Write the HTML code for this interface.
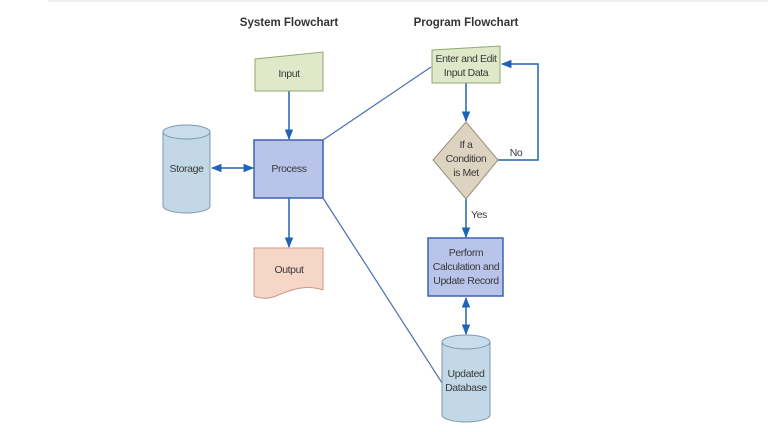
<!DOCTYPE html>
<html><head><meta charset="utf-8"><style>
html,body{margin:0;padding:0;background:#fff;}
svg{display:block;}
text{font-family:"Liberation Sans Narrow","Liberation Sans",sans-serif;fill:#3a3a3a;font-size:10.5px;letter-spacing:-0.4px;}
.t{font-weight:bold;font-size:11.5px;fill:#333;letter-spacing:0;}
</style></head><body>
<svg width="768" height="432" viewBox="0 0 768 432" xmlns="http://www.w3.org/2000/svg">
<defs>
<marker id="a" viewBox="0 0 10 10" refX="9" refY="5" markerWidth="7" markerHeight="7" orient="auto-start-reverse"><path d="M0,1 L10,5 L0,9 z" fill="#1f63b8"/></marker>
</defs>
<rect x="48" y="0" width="720" height="2" fill="#eeeeee"/>
<text class="t" x="289" y="26" text-anchor="middle">System Flowchart</text>
<text class="t" x="466" y="26" text-anchor="middle">Program Flowchart</text>

<!-- connectors -->
<g stroke="#1f63b8" stroke-width="1.5" fill="none">
<line x1="289" y1="91" x2="289" y2="139" marker-end="url(#a)"/>
<line x1="289" y1="198" x2="289" y2="247" marker-end="url(#a)"/>
<line x1="212" y1="168" x2="253" y2="168" marker-start="url(#a)" marker-end="url(#a)"/>
<line x1="466" y1="83" x2="466" y2="121" marker-end="url(#a)"/>
<line x1="466" y1="199" x2="466" y2="237" marker-end="url(#a)"/>
<line x1="466" y1="298" x2="466" y2="334" marker-start="url(#a)" marker-end="url(#a)"/>
<polyline points="498,160 538,160 538,64 502,64" marker-end="url(#a)"/>
</g>
<g stroke="#4a6fb0" stroke-width="1.2" fill="none">
<line x1="323" y1="140" x2="431" y2="67"/>
<line x1="323" y1="198" x2="444" y2="386"/>
</g>

<!-- shapes -->
<polygon points="255,59 323,52 323,91 255,91" fill="#dfe8c8" stroke="#8fa870" stroke-width="1"/>
<text x="289" y="77" text-anchor="middle">Input</text>

<rect x="254" y="140" width="69" height="58" fill="#b8c4ea" stroke="#3f62b0" stroke-width="1.5"/>
<text x="289" y="172" text-anchor="middle">Process</text>

<path d="M254,248 H323 V290 C305,284 290,290 276,296 C266,300 258,298 254,296 Z" fill="#f6d6c6" stroke="#c99a84" stroke-width="1"/>
<text x="289" y="273" text-anchor="middle">Output</text>

<path d="M163,132 V206 A23.5,7 0 0 0 210,206 V132" fill="#c3d8e6" stroke="#7b98b0" stroke-width="1"/>
<ellipse cx="186.5" cy="132" rx="23.5" ry="7" fill="#c9dcea" stroke="#7b98b0" stroke-width="1"/>
<text x="186.5" y="172" text-anchor="middle">Storage</text>

<polygon points="432,50 500,46 500,83 432,83" fill="#dfe8c8" stroke="#8fa870" stroke-width="1"/>
<text x="466" y="62" text-anchor="middle">Enter and Edit</text>
<text x="466" y="76" text-anchor="middle">Input Data</text>

<polygon points="466,122 498,160 466,199 433,160" fill="#ddd3c1" stroke="#9a8e78" stroke-width="1"/>
<text x="466" y="148" text-anchor="middle">If a</text>
<text x="466" y="162" text-anchor="middle">Condition</text>
<text x="466" y="176" text-anchor="middle">is Met</text>
<text x="516" y="156" text-anchor="middle">No</text>
<text x="479" y="218" text-anchor="middle">Yes</text>

<rect x="428" y="238" width="75" height="58" fill="#b8c4ea" stroke="#3f62b0" stroke-width="1.5"/>
<text x="466" y="256" text-anchor="middle">Perform</text>
<text x="466" y="270" text-anchor="middle">Calculation and</text>
<text x="466" y="284" text-anchor="middle">Update Record</text>

<path d="M442,342 V415 A24,7 0 0 0 490,415 V342" fill="#c3d8e6" stroke="#7b98b0" stroke-width="1"/>
<ellipse cx="466" cy="342" rx="24" ry="7" fill="#c9dcea" stroke="#7b98b0" stroke-width="1"/>
<text x="466" y="377" text-anchor="middle">Updated</text>
<text x="466" y="391" text-anchor="middle">Database</text>
</svg>
</body></html>
